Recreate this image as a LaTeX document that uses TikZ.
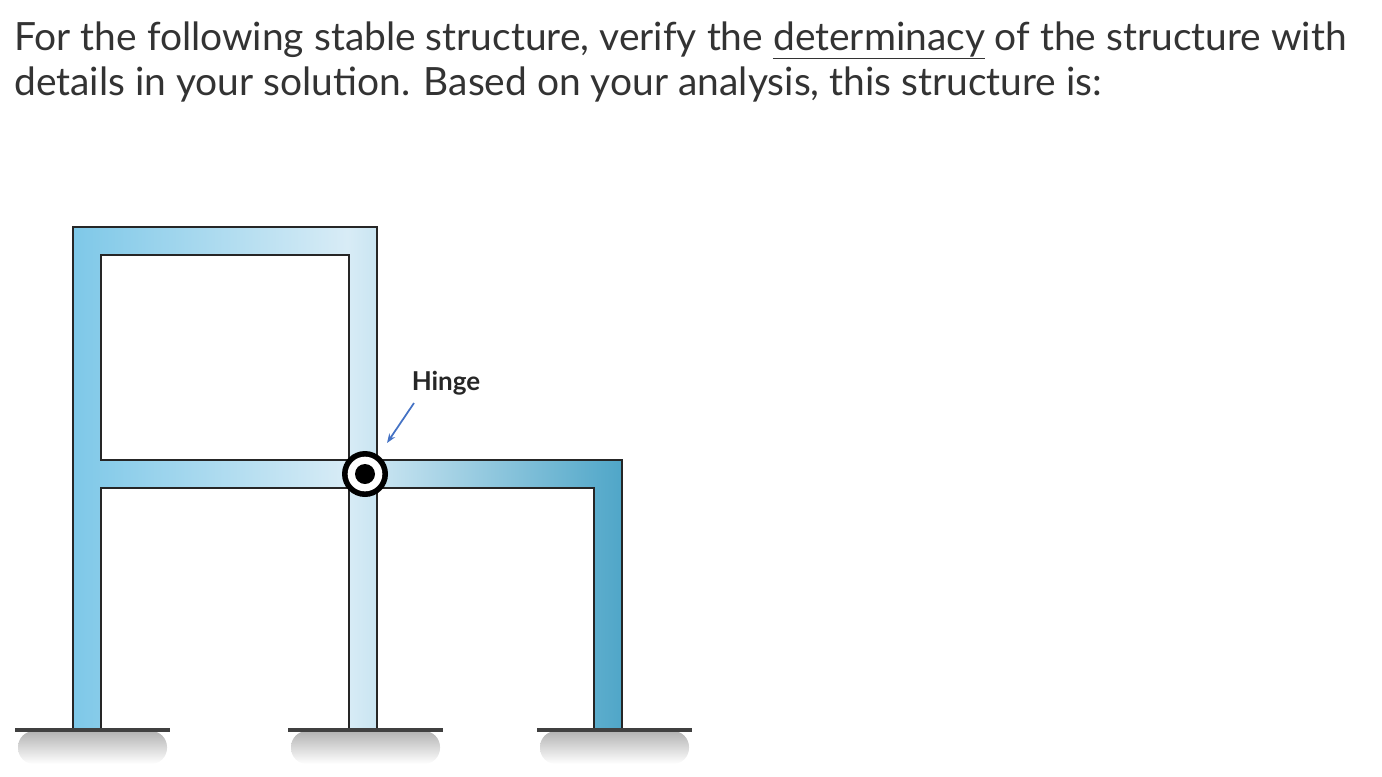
\documentclass[tikz,border=0pt]{standalone}
\usepackage{fontspec}
\setmainfont{Lato}
\usetikzlibrary{arrows.meta}
\definecolor{txt}{HTML}{333333}
\definecolor{bA}{HTML}{7EC8E8}
\definecolor{bB}{HTML}{D8ECF6}
\definecolor{bC}{HTML}{4FA6C8}
\definecolor{arr}{HTML}{4472C4}
\tikzset{member/.style={draw=black!85,line width=1.6pt,even odd rule},
ground/.style={draw=black!75,line width=2.4pt},
shadow/.style={top color=black!30,bottom color=white,draw=none}}
\begin{document}
\begin{tikzpicture}[x=0.75pt,y=-0.75pt]
\useasboundingbox (0,0) rectangle (1382,776);
\node[anchor=base west,text=txt,font=\fontsize{29.2}{35}\selectfont,inner sep=0] (l1) at (14,50) {For the following stable structure, verify the \underline{determinacy} of the structure with};
\node[anchor=base west,text=txt,font=\fontsize{29.2}{35}\selectfont,inner sep=0] (l2) at (14,95) {details in your solution. Based on your analysis, this structure is:};
% shadows
\shade[shadow,rounded corners=12pt] (18,731) rectangle (167,764);
\shade[shadow,rounded corners=12pt] (291,731) rectangle (440,764);
\shade[shadow,rounded corners=12pt] (540,731) rectangle (689,764);
% frame
\shade[left color=bA,right color=bC,middle color=bB,member]
 (73,730) -- (73,227) -- (377,227) -- (377,460) -- (622,460) -- (622,730) -- (594,730) -- (594,488) -- (377,488) -- (377,730) -- (349,730) -- (349,488) -- (101,488) -- (101,730) -- cycle
 (101,255) -- (349,255) -- (349,460) -- (101,460) -- cycle;
% grounds
\draw[ground] (15,730) -- (170,730);
\draw[ground] (288,730) -- (443,730);
\draw[ground] (537,730) -- (692,730);
% hinge
\node[circle,fill=black,minimum size=34.5pt,inner sep=0] (h) at (365,474) {};
\node[circle,fill=white,minimum size=26pt,inner sep=0] at (h) {};
\node[circle,fill=black,minimum size=15pt,inner sep=0] at (h) {};
\node[font=\bfseries\fontsize{19.5}{22}\selectfont,text=black!85] (hl) at (446,383) {Hinge};
\coordinate (a1) at (414,403);
\coordinate (a2) at (387,443);
\draw[-{Stealth[length=7pt]},draw=arr,line width=1.3pt] (a1) -- (a2);
\end{tikzpicture}
\end{document}
